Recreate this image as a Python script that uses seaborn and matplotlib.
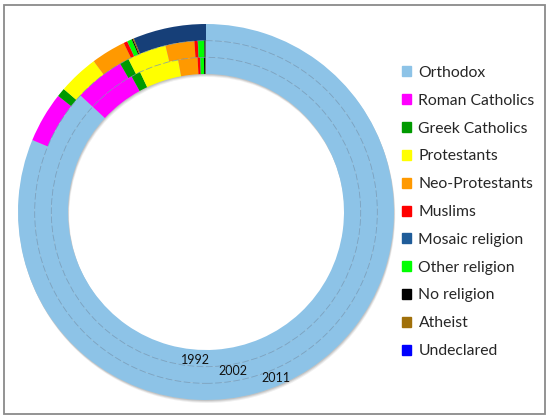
import matplotlib
matplotlib.use("Agg")
import matplotlib.pyplot as plt
import matplotlib.patches as mpatches
import seaborn as sns

# Religion shares (%) per census year
categories = ["Orthodox", "Roman Catholics", "Greek Catholics", "Protestants",
              "Neo-Protestants", "Muslims", "Mosaic religion", "Other religion",
              "No religion", "Atheist", "Undeclared"]
share_1992 = [86.81, 5.09, 0.98, 4.12, 2.01, 0.25, 0.04, 0.37, 0.12, 0.05, 0.04]
share_2002 = [86.79, 4.73, 0.88, 3.66, 2.72, 0.31, 0.03, 0.59, 0.06, 0.04, 0.05]
share_2011 = [81.04, 4.33, 0.75, 3.46, 2.97, 0.32, 0.02, 0.40, 0.09, 0.10, 6.26]
years = ["1992", "2002", "2011"]

colors = ["#8DC3E7", "#FF00FF", "#009A00", "#FFFF00", "#FF9900", "#FF0000",
          "#1F5C99", "#00FF00", "#000000", "#A0700A", "#0000FF"]
# the undeclared slice is drawn darker in the ring than in the legend
ring_colors = colors[:-1] + ["#163F78"]

sns.set_theme(style="white")
plt.rcParams["font.family"] = ["Lato", "DejaVu Sans"]

fig = plt.figure(figsize=(5.5, 4.2), dpi=100)
ax = fig.add_axes([0, 0, 1, 1])

cx, cy = 206, 208
r_out, w = 188, 50 / 3

# soft shadow behind the rings
for off, a in [(3.0, 0.12), (2.0, 0.18), (1.0, 0.25)]:
    ax.add_patch(mpatches.Wedge((cx + off * 0.4, cy - off), r_out, 0, 360,
                                width=3 * w, color="#808080", alpha=a, lw=0))

for i, vals in enumerate([share_2011, share_2002, share_1992]):
    ax.pie(vals, colors=ring_colors, radius=r_out - i * w, center=(cx, cy),
           startangle=90, counterclock=False, frame=True,
           wedgeprops=dict(width=w, linewidth=0))

# faint separators between the rings
for r in [r_out - w, r_out - 2 * w]:
    ax.add_patch(mpatches.Circle((cx, cy), r, fill=False, ec="#6E93B3",
                                 lw=0.6, ls=(0, (8, 3)), alpha=0.7))

# year labels
for yr, (tx, ty) in zip(years, [(195, 60), (233, 49), (276, 42)]):
    ax.text(tx, ty, yr, ha="center", va="center", fontsize=9, color="#111111")

handles = [mpatches.Patch(color=c) for c in colors]
ax.legend(handles, categories, loc="upper left", bbox_to_anchor=(402 / 550, 1 - 66 / 420),
          frameon=False, fontsize=11.3, handlelength=0.6, handleheight=0.6,
          handletextpad=0.45, labelspacing=0.88, borderpad=0, borderaxespad=0)

# outer frame
ax.add_patch(mpatches.Rectangle((4, 6), 541, 409, fill=False, ec="#8A8A8A", lw=1.3))

ax.set_xlim(0, 550)
ax.set_ylim(0, 420)
ax.set_aspect("auto")
ax.axis("off")

fig.savefig("out.png", dpi=100, facecolor="white")
